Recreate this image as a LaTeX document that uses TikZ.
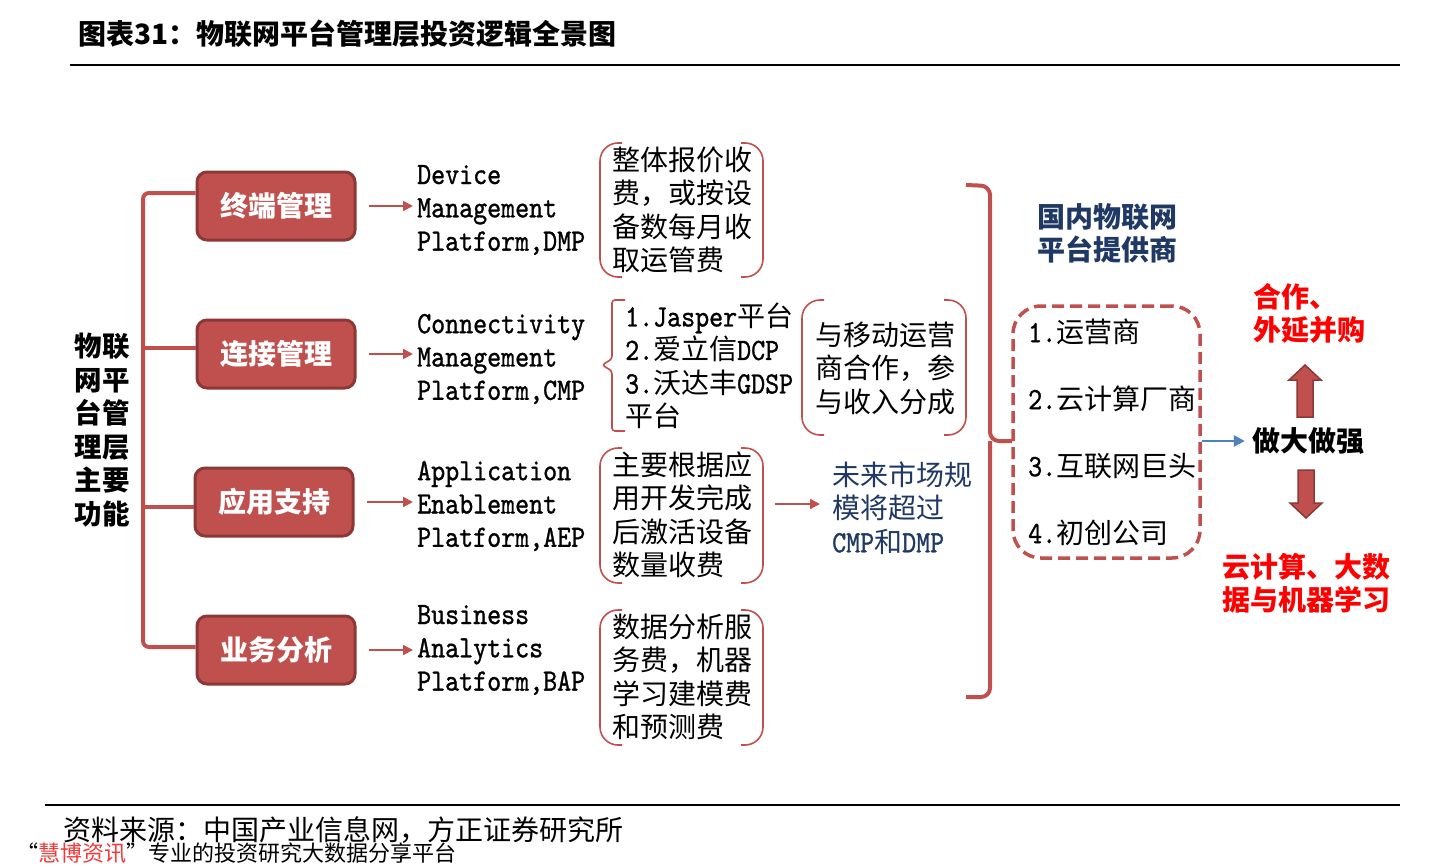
\documentclass[tikz,border=0pt]{standalone}
\usepackage{fontspec}
\setmainfont{Noto Sans CJK SC}
\newfontfamily\lmtt[FakeStretch=0.86,FakeBold=1]{lmmono10-regular.otf}
\usetikzlibrary{arrows.meta}
\definecolor{myred}{HTML}{C0504D}
\definecolor{darkred}{HTML}{8C3836}
\definecolor{navy}{HTML}{1F3864}
\definecolor{myblue}{HTML}{4F81BD}
\definecolor{brightred}{HTML}{FF0000}
\definecolor{wmred}{HTML}{F03A3A}
\newcommand\mybp[4]{%
  \draw[thinred, rounded corners=18pt] (#1+22,#2) -- (#1,#2) -- (#1,#4) -- (#1+22,#4);
  \draw[thinred, rounded corners=18pt] (#3-22,#2) -- (#3,#2) -- (#3,#4) -- (#3-22,#4);}
\newcommand\mytt[1]{{\lmtt\fontsize{31}{33.5}\selectfont #1}}
\begin{document}
\begin{tikzpicture}[x=1pt,y=-1pt,
  cj/.style={inner sep=0pt, anchor=west, align=left, font=\fontsize{28}{33.5}\selectfont},
  tt/.style={inner sep=0pt, anchor=west, align=left, font=\lmtt\fontsize{31}{33.3}\selectfont},
  fbox/.style={draw=darkred, line width=3pt, fill=myred, rounded corners=10pt, minimum width=158pt, minimum height=68pt, inner sep=0pt, text=white, font=\bfseries\fontsize{28}{30}\selectfont},
  brk/.style={draw=myred, line width=4pt, rounded corners=6pt},
  thinred/.style={draw=myred, line width=1.6pt},
  rarr/.style={draw=myred, line width=2pt, -{Triangle[length=10pt,width=10pt]}},
  barr/.style={draw=myblue, line width=2.5pt, -{Triangle[length=11pt,width=11pt]}},
  blk/.style={fill=myred, draw=darkred, line width=1.5pt, line join=miter}
]
\fill[white] (0,0) rectangle (1440,867);
\useasboundingbox (0,0) rectangle (1440,867);

% title and rules
\node[inner sep=0pt, anchor=west, font=\bfseries\fontsize{28}{28}\selectfont] (title) at (78,34) {图表31：物联网平台管理层投资逻辑全景图};
\coordinate (r1a) at (70,65); \coordinate (r1b) at (1400,65);
\draw[line width=1.3pt] (r1a) -- (r1b);
\coordinate (r2a) at (45,805); \coordinate (r2b) at (1400,805);
\draw[line width=1.3pt] (r2a) -- (r2b);

% left label
\node[inner sep=0pt, align=center, font=\bfseries\fontsize{27.5}{33.6}\selectfont] (lt) at (102,430) {物联\\网平\\台管\\理层\\主要\\功能};

% boxes
\node[fbox] (b1) at (276,206) {终端管理};
\node[fbox] (b2) at (276,354) {连接管理};
\node[fbox] (b3) at (274,502) {应用支持};
\node[fbox] (b4) at (276,650) {业务分析};

% left bracket
\coordinate (s1) at (143,193); \coordinate (s4) at (143,647);
\draw[brk] (b1.west |- s1) -- (s1) -- (s4) -- (b4.west |- s4);
\coordinate (s2) at (143,348); \coordinate (s3) at (143,507);
\draw[brk] (s2) -- (b2.west |- s2);
\draw[brk] (s3) -- (b3.west |- s3);

% platform texts
\node[tt] (dmp) at (417,210) {Device\\Management\\Platform,DMP};
\node[tt] (cmp) at (417,359) {Connectivity\\Management\\Platform,CMP};
\node[tt] (aep) at (417,506) {Application\\Enablement\\Platform,AEP};
\node[tt] (bap) at (417,650) {Business\\Analytics\\Platform,BAP};

\draw[rarr] ([xshift=12pt]b1.east) -- ([xshift=-4pt]b1.east -| dmp.west);
\draw[rarr] ([xshift=12pt]b2.east) -- ([xshift=-4pt]b2.east -| cmp.west);
\draw[rarr] ([xshift=12pt]b3.east) -- ([xshift=-4pt]b3.east -| aep.west);
\draw[rarr] ([xshift=12pt]b4.east) -- ([xshift=-4pt]b4.east -| bap.west);

% fee boxes
\node[cj] (fa) at (612,210) {整体报价收\\费，或按设\\备数每月收\\取运管费};
\mybp{600}{143}{763}{277}
\node[cj] (fb) at (625,366) {\mytt{1.Jasper}平台\\\mytt{2.}爱立信\mytt{DCP}\\\mytt{3.}沃达丰\mytt{GDSP}\\平台};
\draw[thinred, rounded corners=3pt] (625,300) -- (612,300) -- (612,359) -- (602,365) -- (612,371) -- (612,431) -- (625,431);
\node[cj] (fc) at (815,368) {与移动运营\\商合作，参\\与收入分成};
\mybp{802}{300}{966}{435}
\node[cj] (fd) at (612,515) {主要根据应\\用开发完成\\后激活设备\\数量收费};
\mybp{600}{448}{763}{583}
\node[cj, text=navy] (fe) at (832,508) {未来市场规\\模将超过\\\mytt{CMP}和\mytt{DMP}};
\coordinate (a5s) at (775,504); \coordinate (a5e) at (820,504);
\draw[rarr] (a5s) -- (a5e);
\node[cj] (ff) at (612,677) {数据分析服\\务费，机器\\学习建模费\\和预测费};
\mybp{600}{610}{763}{745}

% big right bracket
\coordinate (g1) at (966,185); \coordinate (g2) at (990,186);
\coordinate (gm) at (990,441); \coordinate (gt) at (1012,441);
\coordinate (g3) at (990,697); \coordinate (g4) at (966,697);
\draw[brk, rounded corners=9pt] (g1) -- (g2) -- (gm) -- (gt);
\draw[brk, rounded corners=9pt] (gm) -- (g3) -- (g4);

% providers
\node[inner sep=0pt, align=center, text=navy, font=\bfseries\fontsize{28}{33}\selectfont] (hdr) at (1107,233) {国内物联网\\平台提供商};
\node[draw=myred, line width=3.5pt, dash pattern=on 12pt off 6pt, rounded corners=28pt, minimum width=187pt, minimum height=252pt, inner sep=0pt] (box) at (1106.5,432) {};
\node[inner sep=0pt, anchor=west, align=left, font=\fontsize{28}{67}\selectfont] (lst) at (1028,432) {\mytt{1.}运营商\\\mytt{2.}云计算厂商\\\mytt{3.}互联网巨头\\\mytt{4.}初创公司};

% right side
\node[inner sep=0pt, font=\bfseries\fontsize{28}{28}\selectfont] (zq) at (1308,441) {做大做强};
\draw[barr] (box.east |- zq.west) -- ([xshift=-7pt]zq.west);
\draw[blk] (1297,417) -- (1297,380) -- (1289,380) -- (1305,365) -- (1321,380) -- (1313,380) -- (1313,417) -- cycle;
\draw[blk] (1298,470) -- (1298,503) -- (1290,503) -- (1306,518) -- (1322,503) -- (1314,503) -- (1314,470) -- cycle;
\node[inner sep=0pt, anchor=west, align=left, text=brightred, font=\bfseries\fontsize{28}{33}\selectfont] (rt1) at (1253,313.5) {合作、\\外延并购};
\node[inner sep=0pt, align=center, text=brightred, font=\bfseries\fontsize{28}{33}\selectfont] (rt2) at (1306,583.5) {云计算、大数\\据与机器学习};

% source
\node[inner sep=0pt, anchor=west, font=\fontsize{28}{28}\selectfont] (src) at (63,830) {资料来源：中国产业信息网，方正证券研究所};
\node[inner sep=0pt, anchor=west, font=\fontsize{22}{22}\selectfont] (wm) at (16,853) {“\textcolor{wmred}{慧博资讯}”专业的投资研究大数据分享平台};
\end{tikzpicture}
\end{document}
